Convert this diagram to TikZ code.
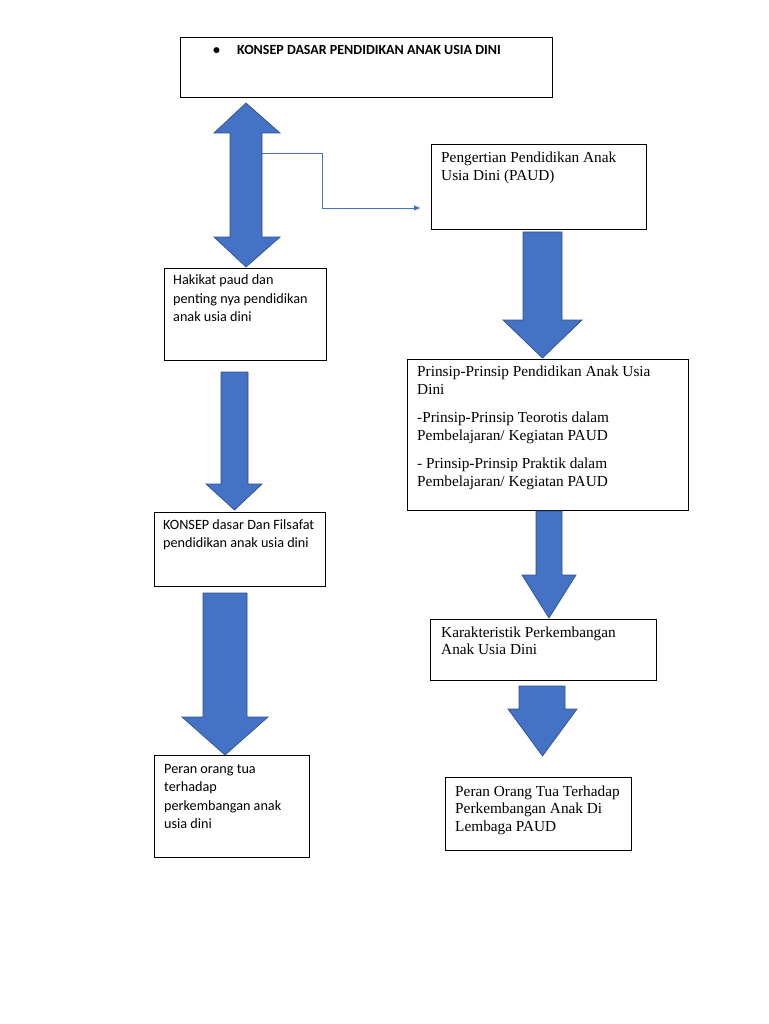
\documentclass[tikz,border=0pt]{standalone}
\usepackage{fontspec}
\setmainfont{Liberation Serif}
\newfontfamily\calfont{Carlito}
\usetikzlibrary{arrows.meta}
\definecolor{arrowfill}{HTML}{4472C4}
\definecolor{arrowedge}{HTML}{2F528F}
\definecolor{linkblue}{HTML}{4472C4}
\tikzset{
  box/.style={draw=black, line width=0.8pt, inner sep=0pt, anchor=north west},
  blockarrow/.style={fill=arrowfill, draw=arrowedge, line width=0.7pt, line join=miter},
  seriftext/.style={inner sep=0pt, anchor=base west},
  sanstext/.style={inner sep=0pt, anchor=base west},
  link/.style={draw=linkblue, line width=0.8pt, -{Triangle[length=6pt,width=5pt]}},
}
\newcommand\serifpar[2]{\parbox[t]{#1pt}{\raggedright\fontsize{15.3}{17.6}\selectfont #2}}
\newcommand\sanspar[2]{\parbox[t]{#1pt}{\raggedright\calfont\fontsize{14.2}{18.5}\selectfont #2}}
\begin{document}
\begin{tikzpicture}[x=1pt,y=-1pt]
\useasboundingbox[fill=white] (0,0) rectangle (768,1024);

% boxes
\node[box, minimum width=372pt, minimum height=60pt] (top) at (180,37) {};
\node[box, minimum width=215pt, minimum height=85pt] (peng) at (431,144) {};
\node[box, minimum width=281pt, minimum height=151pt] (prin) at (407,359) {};
\node[box, minimum width=226pt, minimum height=61pt] (kar) at (430,619) {};
\node[box, minimum width=186pt, minimum height=73pt] (peranR) at (445,777) {};
\node[box, minimum width=162pt, minimum height=92pt] (hak) at (164,268) {};
\node[box, minimum width=171pt, minimum height=74pt] (kons) at (154,512) {};
\node[box, minimum width=155pt, minimum height=102pt] (peranL) at (154,755) {};

% texts
\node[sanstext, font=\calfont\bfseries\fontsize{14}{16}\selectfont] (topbul) at (213,55) {\textbullet};
\node[sanstext, font=\calfont\bfseries\fontsize{14}{16}\selectfont] (toptxt) at (237,55) {KONSEP DASAR PENDIDIKAN ANAK USIA DINI};
\node[seriftext] (pengtxt) at (441,162.5) {\serifpar{200}{Pengertian Pendidikan Anak\\Usia Dini (PAUD)}};
\node[seriftext] (printxt) at (417,376.5) {\serifpar{268}{Prinsip-Prinsip Pendidikan Anak Usia\\Dini\par\vspace{11pt}-Prinsip-Prinsip Teorotis dalam\\Pembelajaran/ Kegiatan PAUD\par\vspace{11pt}- Prinsip-Prinsip Praktik dalam\\Pembelajaran/ Kegiatan PAUD}};
\node[seriftext] (kartxt) at (441,637) {\serifpar{212}{Karakteristik Perkembangan\\Anak Usia Dini}};
\node[seriftext] (peranRtxt) at (455,796) {\serifpar{175}{Peran Orang Tua Terhadap\\Perkembangan Anak Di\\Lembaga PAUD}};
\node[sanstext] (haktxt) at (173,284.5) {\sanspar{150}{Hakikat paud dan\\penting nya pendidikan\\anak usia dini}};
\node[sanstext] (konstxt) at (163,529) {\sanspar{160}{KONSEP dasar Dan Filsafat\\pendidikan anak usia dini}};
\node[sanstext] (peranLtxt) at (164,773) {\sanspar{145}{Peran orang tua\\terhadap\\perkembangan anak\\usia dini}};

% double arrow
\draw[blockarrow] (246,103) -- (280,133) -- (262,133) -- (262,237) -- (280,237) -- (246,267)
  -- (214,237) -- (230,237) -- (230,133) -- (214,133) -- cycle;

% link connector
\coordinate (linkstart) at (262,153);
\coordinate (linkend) at (420,208);
\draw[link] (linkstart) -- (322,153) |- (linkend);

% block arrows right
\draw[blockarrow] (523,232) -- (562,232) -- (562,320) -- (582,320) -- (542.5,358) -- (503,320) -- (523,320) -- cycle;
\draw[blockarrow] (536,511) -- (562,511) -- (562,575) -- (576,575) -- (549,618) -- (522,575) -- (536,575) -- cycle;
\draw[blockarrow] (519,686) -- (565,686) -- (565,709) -- (577,709) -- (542.5,756) -- (508,709) -- (519,709) -- cycle;

% block arrows left
\draw[blockarrow] (221,372) -- (248,372) -- (248,484) -- (262,484) -- (234.5,510) -- (206,484) -- (221,484) -- cycle;
\draw[blockarrow] (203,593) -- (247,593) -- (247,717) -- (268,717) -- (225,755) -- (182,717) -- (203,717) -- cycle;

\end{tikzpicture}
\end{document}
